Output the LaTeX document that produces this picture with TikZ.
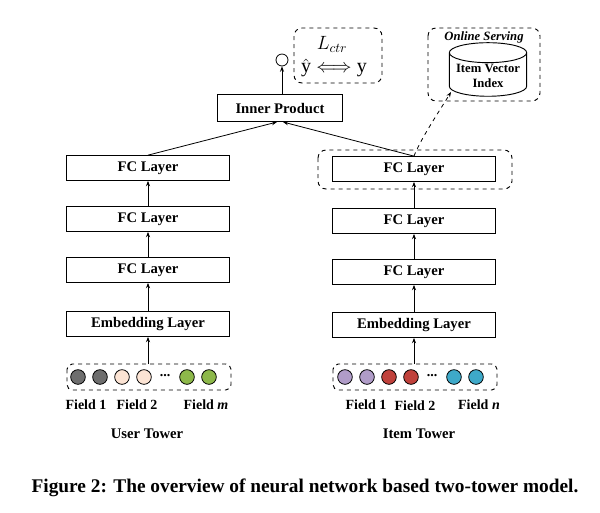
\documentclass[tikz,border=0pt]{standalone}
\usepackage{fontspec}
\setmainfont{Liberation Serif}
\usetikzlibrary{arrows.meta,shapes.geometric}
\definecolor{cgray}{HTML}{6E6E6E}\definecolor{cpeach}{HTML}{FCE4D4}\definecolor{cgreen}{HTML}{8DB84A}
\definecolor{cpurple}{HTML}{B09CC8}\definecolor{cred}{HTML}{C0413B}\definecolor{ccyan}{HTML}{3EA9C9}
\begin{document}
\begin{tikzpicture}[x=0.75pt,y=-0.75pt,
 box/.style={draw,line width=0.8pt,minimum width=122pt,minimum height=18.5pt,font=\bfseries\fontsize{11}{13}\selectfont},
 dbox/.style={draw,dashed,rounded corners=6pt,line width=0.7pt},
 arr/.style={-{Stealth[length=4pt,width=3pt]},line width=0.6pt},
 fld/.style={circle,draw,line width=0.6pt,minimum size=11pt,inner sep=0pt},
 lab/.style={font=\bfseries\fontsize{10.5}{12}\selectfont}]
\useasboundingbox (0,0) rectangle (600,512);
% left tower
\node[box] (lfc1) at (148,168) {FC Layer};
\node[box] (lfc2) at (148,219) {FC Layer};
\node[box] (lfc3) at (148,270) {FC Layer};
\node[box] (lemb) at (148,324) {Embedding Layer};
% right tower
\node[box] (rfc1) at (414,169) {FC Layer};
\node[box] (rfc2) at (414,221) {FC Layer};
\node[box] (rfc3) at (414,272) {FC Layer};
\node[box] (remb) at (414,325) {Embedding Layer};
\draw[dbox] (318,150) rectangle (512,189);
% inner product
\node[box,minimum width=94pt,minimum height=20pt] (ip) at (280,108) {Inner Product};
\node[circle,draw,line width=0.6pt,minimum size=9pt,inner sep=0pt] (out) at (282,60) {};
\draw[arr] (ip.north -| out) -- (out);
\draw[dbox] (294,28) rectangle (382,83);
\node[inner sep=0pt] (loss) at (332,44) {\fontsize{14}{16}\selectfont $L_{ctr}$};
\node[inner sep=0pt] (yy) at (334,68) {\fontsize{15}{16}\selectfont $\hat{\mathrm{y}}\Longleftrightarrow\mathrm{y}$};
% online serving
\draw[dbox] (428,28) rectangle (540,101);
\node[font=\bfseries\itshape\fontsize{9.5}{10}\selectfont] (os) at (484,37) {Online Serving};
\node[cylinder,shape border rotate=90,draw,line width=0.7pt,minimum width=58pt,minimum height=32pt,aspect=0.3,align=center,inner sep=1pt,font=\bfseries\fontsize{9.5}{11}\selectfont] (cyl) at (488,76) {Item Vector\\Index};
\coordinate (cyltgt) at (451,92);
\draw[arr,dashed] (rfc1.north) .. controls (420,140) and (440,110) .. (cyltgt);
% tower arrows
\draw[arr] (lfc1.north) -- (277,122);
\draw[arr] (rfc1.north) -- (283,122);
\draw[arr] (lfc2) -- (lfc1); \draw[arr] (lfc3) -- (lfc2); \draw[arr] (lemb) -- (lfc3);
\draw[arr] (rfc2) -- (rfc1); \draw[arr] (rfc3) -- (rfc2); \draw[arr] (remb) -- (rfc3);
% fields
\draw[dbox,rounded corners=4pt] (67,364) rectangle (231,390);
\draw[dbox,rounded corners=4pt] (333,364) rectangle (497,390);
\coordinate (lf) at (148,364); \coordinate (rf) at (414,364);
\draw[arr] (lf) -- (lemb); \draw[arr] (rf) -- (remb);
\foreach \x/\c [count=\i] in {78/cgray,100/cgray,122/cpeach,144/cpeach,187/cgreen,209/cgreen}
  \node[fld,fill=\c] (l\i) at (\x,377) {};
\foreach \x/\c [count=\i] in {345/cpurple,367/cpurple,389/cred,411/cred,454/ccyan,476/ccyan}
  \node[fld,fill=\c] (r\i) at (\x,377) {};
\node[lab] (ld) at (165,376) {...};
\node[lab] (rd) at (432,376) {...};
\node[lab] at (86,405) {Field 1};
\node[lab] at (137,405) {Field 2};
\node[lab] at (206,405) {Field \textit{m}};
\node[lab] at (366,405) {Field 1};
\node[lab] at (415,406) {Field 2};
\node[lab] at (479,405) {Field \textit{n}};
\node[font=\bfseries\fontsize{11}{13}\selectfont] at (147,434) {User Tower};
\node[font=\bfseries\fontsize{11}{13}\selectfont] at (419,434) {Item Tower};
\node[font=\bfseries\fontsize{14.5}{16}\selectfont] at (305,488) {Figure 2: The overview of neural network based two-tower model.};
\end{tikzpicture}
\end{document}
